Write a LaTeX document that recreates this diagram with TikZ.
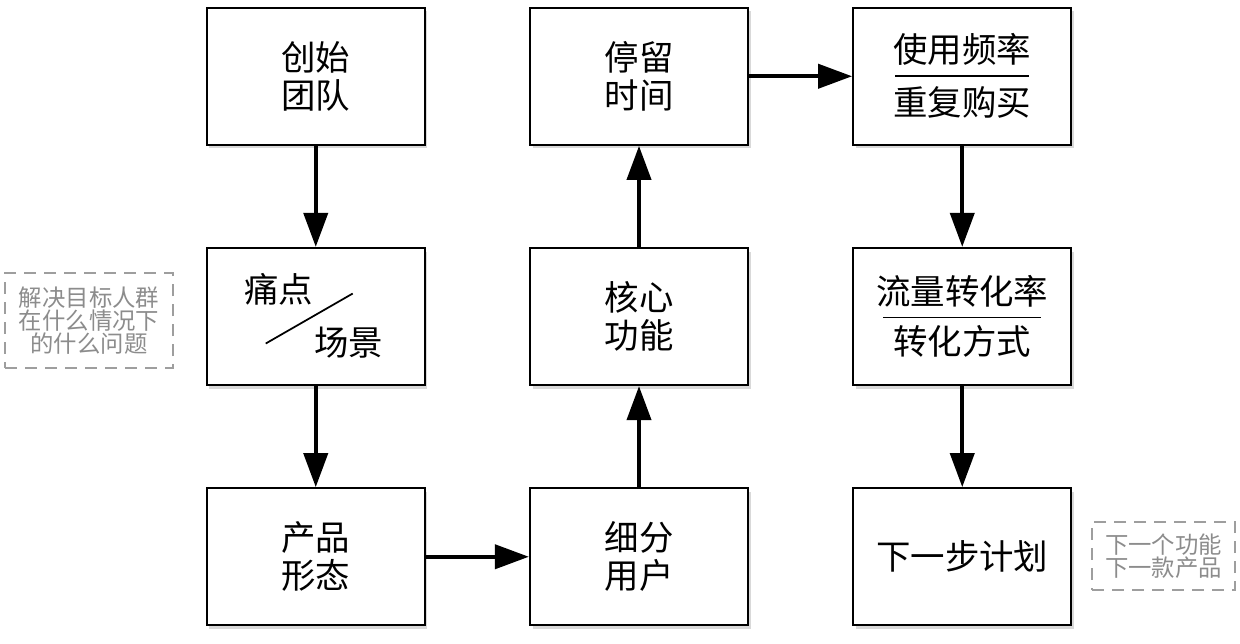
\documentclass[tikz,border=0pt]{standalone}
\usepackage{fontspec}
\setmainfont{Noto Sans CJK SC}
\usetikzlibrary{matrix,arrows.meta,shadows}

\begin{document}
\begin{tikzpicture}[
  box/.style={draw, line width=0.045cm, fill=white, minimum width=4.36cm, minimum height=2.74cm,
    align=center, font=\fontsize{19.6}{21.6}\selectfont,
    drop shadow={shadow xshift=0.05cm, shadow yshift=-0.07cm, opacity=0.3}},
  lbl/.style={inner sep=0pt, font=\fontsize{19.6}{21.6}\selectfont},
  note/.style={draw=black!38, dash pattern=on 0.24cm off 0.16cm, line width=0.05cm, text=black!45,
    align=center, inner sep=0pt, font=\fontsize{13.3}{13.1}\selectfont},
  flow/.style={line width=0.08cm, -{Triangle[length=0.68cm,width=0.48cm]}},
  bar/.style={line width=0.035cm}]
  \useasboundingbox (0,0) rectangle (24.8,-12.86);
  \matrix (m) at (12.78,-6.33) [row sep=2.02cm, column sep=2.06cm]
  {
    \node[box] (team) {创始\\团队}; & \node[box] (stay) {停留\\时间}; & \node[box] (freq) {使用频率\\[8.6pt]重复购买}; \\
    \node[box] (pain) {};          & \node[box] (core) {核心\\功能}; & \node[box] (conv) {流量转化率\\[6.9pt]转化方式}; \\
    \node[box] (form) {产品\\形态}; & \node[box] (users) {细分\\用户}; & \node[box] (plan) {下一步计划}; \\
  };
  % pain point / scene
  \node[lbl] (hurt) at ([shift={(-0.74,0.54)}]pain.center) {痛点};
  \node[lbl] (scene) at ([shift={(0.66,-0.52)}]pain.center) {场景};
  \draw[bar] ([shift={(-1.0,-0.54)}]pain.center) -- ([shift={(0.74,0.46)}]pain.center);
  \draw[bar] ([xshift=-1.34cm]freq.center) -- ([xshift=1.34cm]freq.center);
  \draw[bar] ([shift={(-1.58,-0.02)}]conv.center) -- ([shift={(1.58,-0.02)}]conv.center);
  % notes
  \node[note, minimum width=3.36cm, minimum height=1.9cm] (why) at (1.78,-6.41) {解决目标人群\\在什么情况下\\的什么问题};
  \node[note, minimum width=2.86cm, minimum height=1.36cm] (next) at (23.27,-11.12) {下一个功能\\下一款产品};
  \path[flow]
  (team) edge (pain)
  (pain) edge (form)
  (form) edge (users)
  (users) edge (core)
  (core) edge (stay)
  (stay) edge (freq)
  (freq) edge (conv)
  (conv) edge (plan);
\end{tikzpicture}
\end{document}
